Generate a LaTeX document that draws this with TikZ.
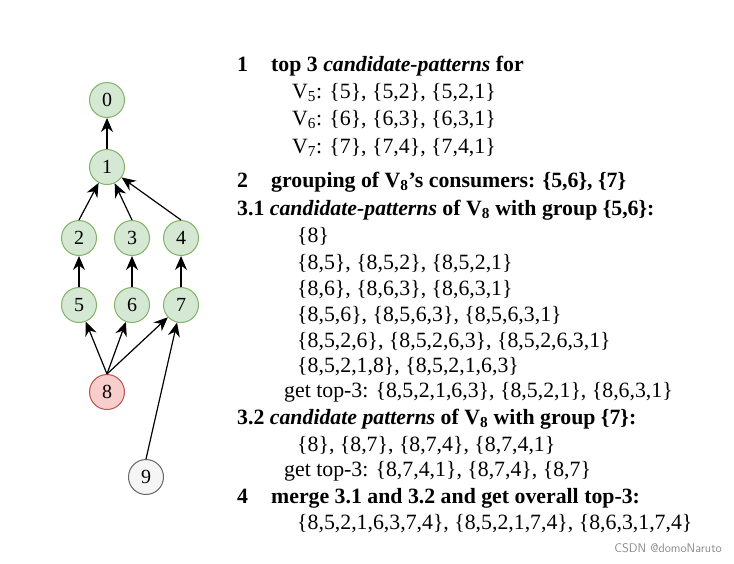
\documentclass[tikz,border=0pt]{standalone}
\usepackage{fontspec}
\setmainfont{Liberation Serif}[BoldItalicFont={Liberation Serif Bold Italic},ItalicFont={Liberation Serif Italic}]
\usetikzlibrary{arrows.meta,positioning}
\definecolor{gfill}{HTML}{D5E8D4}
\definecolor{gdraw}{HTML}{82B366}
\definecolor{rfill}{HTML}{F8CECC}
\definecolor{rdraw}{HTML}{B85450}

\begin{document}
\begin{tikzpicture}[x=1pt,y=-1pt,
  vtx/.style={circle,draw=gdraw,fill=gfill,line width=1pt,minimum size=35pt,inner sep=0pt,font=\fontsize{20}{20}\selectfont},
  edge/.style={-{Stealth[length=14pt,width=12pt]},line width=1.2pt},
  txt/.style={anchor=base west,inner sep=0pt,font=\fontsize{21.8}{24}\selectfont}]
  \useasboundingbox (0,0) rectangle (734,563);
  % graph
  \node[vtx] (n0) at (107,100) {0};
  \node[vtx] (n1) at (107,167) {1};
  \node[vtx] (n2) at (79,238) {2};
  \node[vtx] (n3) at (132,238) {3};
  \node[vtx] (n4) at (181,238) {4};
  \node[vtx] (n5) at (79,305) {5};
  \node[vtx] (n6) at (132,305) {6};
  \node[vtx] (n7) at (181,305) {7};
  \node[vtx,draw=rdraw,fill=rfill] (n8) at (107,392) {8};
  \node[vtx,draw=black!60,fill=black!4] (n9) at (146,477) {9};
  \draw[edge] (n1) -- (n0);
  \draw[edge] (n2.north) -- (n1);
  \draw[edge] (n3.north) -- (n1);
  \draw[edge] (n4.north) -- (n1);
  \draw[edge] (n5) -- (n2);
  \draw[edge] (n6) -- (n3);
  \draw[edge] (n7) -- (n4);
  \draw[edge] (n8.north) -- (n5);
  \draw[edge] (n8.north) -- (n6);
  \draw[edge] (n8.north) -- (n7);
  \draw[edge] (n9.north) -- (n7);
  % steps
  \node[txt] (s1) at (237,71) {\textbf{1}};
  \node[txt] (t1) at (271,71) {\textbf{top 3 \textit{candidate-patterns} for}};
  \node[txt] (a1) at (292,98) {V\textsubscript{5}: \{5\}, \{5,2\}, \{5,2,1\}};
  \node[txt] (a2) at (292,125) {V\textsubscript{6}: \{6\}, \{6,3\}, \{6,3,1\}};
  \node[txt] (a3) at (292,153) {V\textsubscript{7}: \{7\}, \{7,4\}, \{7,4,1\}};
  \node[txt] (s2) at (237,187) {\textbf{2}};
  \node[txt] (t2) at (271,187) {\textbf{grouping of V\textsubscript{8}'s consumers: \{5,6\}, \{7\}}};
  \node[txt] (s3) at (237,215) {\textbf{3.1 \textit{candidate-patterns} of V\textsubscript{8} with group \{5,6\}:}};
  \node[txt] (b1) at (297,242) {\{8\}};
  \node[txt] (b2) at (297,269) {\{8,5\}, \{8,5,2\}, \{8,5,2,1\}};
  \node[txt] (b3) at (297,295) {\{8,6\}, \{8,6,3\}, \{8,6,3,1\}};
  \node[txt] (b4) at (297,321) {\{8,5,6\}, \{8,5,6,3\}, \{8,5,6,3,1\}};
  \node[txt] (b5) at (297,347) {\{8,5,2,6\}, \{8,5,2,6,3\}, \{8,5,2,6,3,1\}};
  \node[txt] (b6) at (297,372) {\{8,5,2,1,8\}, \{8,5,2,1,6,3\}};
  \node[txt] (b7) at (284,397) {get top-3: \{8,5,2,1,6,3\}, \{8,5,2,1\}, \{8,6,3,1\}};
  \node[txt] (s4) at (237,424) {\textbf{3.2 \textit{candidate patterns} of V\textsubscript{8} with group \{7\}:}};
  \node[txt] (c1) at (297,451) {\{8\}, \{8,7\}, \{8,7,4\}, \{8,7,4,1\}};
  \node[txt] (c2) at (284,476) {get top-3: \{8,7,4,1\}, \{8,7,4\}, \{8,7\}};
  \node[txt] (s5) at (237,503) {\textbf{4}};
  \node[txt] (t5) at (271,503) {\textbf{merge 3.1 and 3.2 and get overall top-3:}};
  \node[txt] (d1) at (297,529) {\{8,5,2,1,6,3,7,4\}, \{8,5,2,1,7,4\}, \{8,6,3,1,7,4\}};
  \node[anchor=base east,inner sep=0pt,text=black!45,font=\fontsize{12.5}{14}\selectfont\sffamily] (wm) at (722,552) {CSDN @domoNaruto};
\end{tikzpicture}
\end{document}
